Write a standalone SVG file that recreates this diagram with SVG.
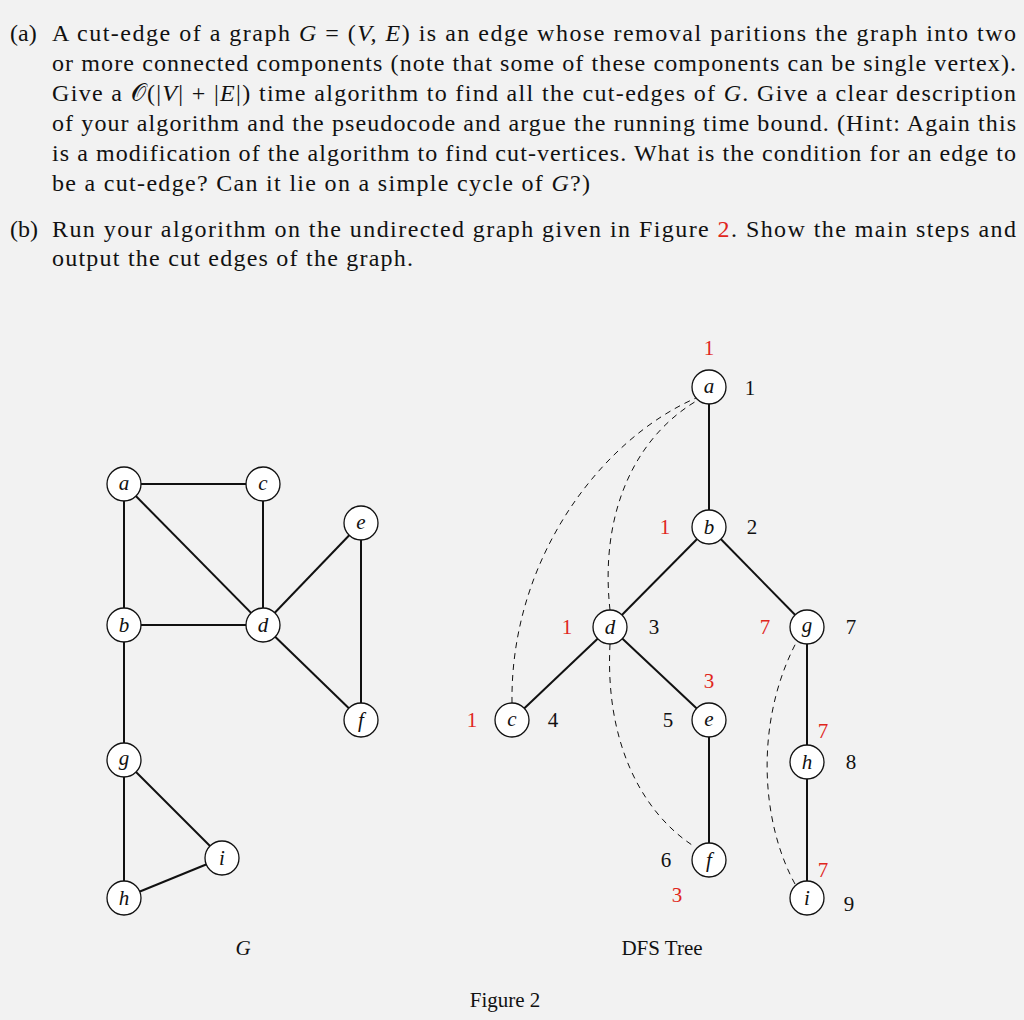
<svg xmlns="http://www.w3.org/2000/svg" width="1024" height="1020" viewBox="0 0 1024 1020">
<style>
text{font-family:"Liberation Serif","DejaVu Serif",serif;fill:#111}
.p{font-size:24px}
.n{font-size:21px;font-style:italic;text-anchor:middle}
.l{font-size:21px;text-anchor:middle}
.r{fill:#e0261c}
circle{fill:#fff;stroke:#111;stroke-width:1.3}
.e line{stroke:#111;stroke-width:2}
.d path{stroke:#111;stroke-width:1;fill:none;stroke-dasharray:6 5}
</style>
<rect width="1024" height="1020" fill="#f2f2f2"/>
<g id="text">
<text class="p" x="10" y="41">(a)</text>
<text class="p" x="52" y="41" textLength="964" lengthAdjust="spacing">A cut-edge of a graph <tspan font-style="italic">G</tspan> = (<tspan font-style="italic">V, E</tspan>) is an edge whose removal paritions the graph into two</text>
<text class="p" x="52" y="71" textLength="964" lengthAdjust="spacing">or more connected components (note that some of these components can be single vertex).</text>
<text class="p" x="52" y="101" textLength="964" lengthAdjust="spacing">Give a 𝒪(|<tspan font-style="italic">V</tspan>| + |<tspan font-style="italic">E</tspan>|) time algorithm to find all the cut-edges of <tspan font-style="italic">G</tspan>. Give a clear description</text>
<text class="p" x="52" y="131" textLength="964" lengthAdjust="spacing">of your algorithm and the pseudocode and argue the running time bound. (Hint: Again this</text>
<text class="p" x="52" y="161" textLength="964" lengthAdjust="spacing">is a modification of the algorithm to find cut-vertices. What is the condition for an edge to</text>
<text class="p" x="52" y="191" textLength="538" lengthAdjust="spacing">be a cut-edge? Can it lie on a simple cycle of <tspan font-style="italic">G</tspan>?)</text>
<text class="p" x="10" y="237">(b)</text>
<text class="p" x="52" y="237" textLength="964" lengthAdjust="spacing">Run your algorithm on the undirected graph given in Figure <tspan class="r">2</tspan>. Show the main steps and</text>
<text class="p" x="52" y="266" textLength="361" lengthAdjust="spacing">output the cut edges of the graph.</text>
</g>
<g id="connectors">
<g class="e">
<line x1="124" y1="484" x2="263" y2="484"/><line x1="124" y1="484" x2="124" y2="625"/>
<line x1="124" y1="484" x2="263" y2="625"/><line x1="263" y1="484" x2="263" y2="625"/>
<line x1="124" y1="625" x2="263" y2="625"/><line x1="263" y1="625" x2="361" y2="523"/>
<line x1="263" y1="625" x2="361" y2="720"/><line x1="361" y1="523" x2="361" y2="720"/>
<line x1="124" y1="625" x2="124" y2="760"/><line x1="124" y1="760" x2="124" y2="898"/>
<line x1="124" y1="760" x2="222" y2="858"/><line x1="124" y1="898" x2="222" y2="858"/>
<line x1="709" y1="387" x2="709" y2="527"/><line x1="709" y1="527" x2="610" y2="627"/>
<line x1="709" y1="527" x2="807" y2="627"/><line x1="610" y1="627" x2="512" y2="720"/>
<line x1="610" y1="627" x2="709" y2="720"/><line x1="709" y1="720" x2="709" y2="860"/>
<line x1="807" y1="627" x2="807" y2="762"/><line x1="807" y1="762" x2="807" y2="898"/>
</g>
<g class="d">
<path d="M512,703 C510,560 600,440 696,398"/>
<path d="M610,610 C600,520 630,440 698,400"/>
<path d="M610,644 C605,740 640,810 692,845"/>
<path d="M795,884 C760,820 755,720 797,641"/>
</g>
</g>
<g id="nodes">
<g id="G-a"><circle cx="124" cy="484" r="17"/><text class="n" x="124" y="490">a</text></g>
<g id="G-c"><circle cx="263" cy="484" r="17"/><text class="n" x="263" y="490">c</text></g>
<g id="G-e"><circle cx="361" cy="523" r="17"/><text class="n" x="361" y="529">e</text></g>
<g id="G-b"><circle cx="124" cy="625" r="17"/><text class="n" x="124" y="632">b</text></g>
<g id="G-d"><circle cx="263" cy="625" r="17"/><text class="n" x="263" y="632">d</text></g>
<g id="G-f"><circle cx="361" cy="720" r="17"/><text class="n" x="361" y="727">f</text></g>
<g id="G-g"><circle cx="124" cy="760" r="17"/><text class="n" x="124" y="765">g</text></g>
<g id="G-i"><circle cx="222" cy="858" r="17"/><text class="n" x="222" y="865">i</text></g>
<g id="G-h"><circle cx="124" cy="898" r="17"/><text class="n" x="124" y="905">h</text></g>
<g id="T-a"><circle cx="709" cy="387" r="17"/><text class="n" x="709" y="393">a</text></g>
<g id="T-b"><circle cx="709" cy="527" r="17"/><text class="n" x="709" y="534">b</text></g>
<g id="T-d"><circle cx="610" cy="627" r="17"/><text class="n" x="610" y="634">d</text></g>
<g id="T-g"><circle cx="807" cy="627" r="17"/><text class="n" x="807" y="632">g</text></g>
<g id="T-c"><circle cx="512" cy="720" r="17"/><text class="n" x="512" y="726">c</text></g>
<g id="T-e"><circle cx="709" cy="720" r="17"/><text class="n" x="709" y="726">e</text></g>
<g id="T-f"><circle cx="709" cy="860" r="17"/><text class="n" x="709" y="867">f</text></g>
<g id="T-h"><circle cx="807" cy="762" r="17"/><text class="n" x="807" y="769">h</text></g>
<g id="T-i"><circle cx="807" cy="898" r="17"/><text class="n" x="807" y="905">i</text></g>
</g>
<g id="labels">
<text class="l" x="750" y="395">1</text><text class="l" x="752" y="534">2</text>
<text class="l" x="654" y="634">3</text><text class="l" x="851" y="634">7</text>
<text class="l" x="553" y="727">4</text><text class="l" x="668" y="727">5</text>
<text class="l" x="851" y="769">8</text><text class="l" x="666" y="867">6</text>
<text class="l" x="849" y="911">9</text>
<text class="l r" x="709" y="355">1</text><text class="l r" x="665" y="534">1</text>
<text class="l r" x="567" y="634">1</text><text class="l r" x="765" y="634">7</text>
<text class="l r" x="709" y="688">3</text><text class="l r" x="472" y="727">1</text>
<text class="l r" x="823" y="738">7</text><text class="l r" x="823" y="877">7</text>
<text class="l r" x="677" y="902">3</text>
<text class="n" x="243" y="955">G</text>
<text class="l" x="662" y="955">DFS Tree</text>
<text class="l" x="505" y="1007">Figure 2</text>
</g>
</svg>
